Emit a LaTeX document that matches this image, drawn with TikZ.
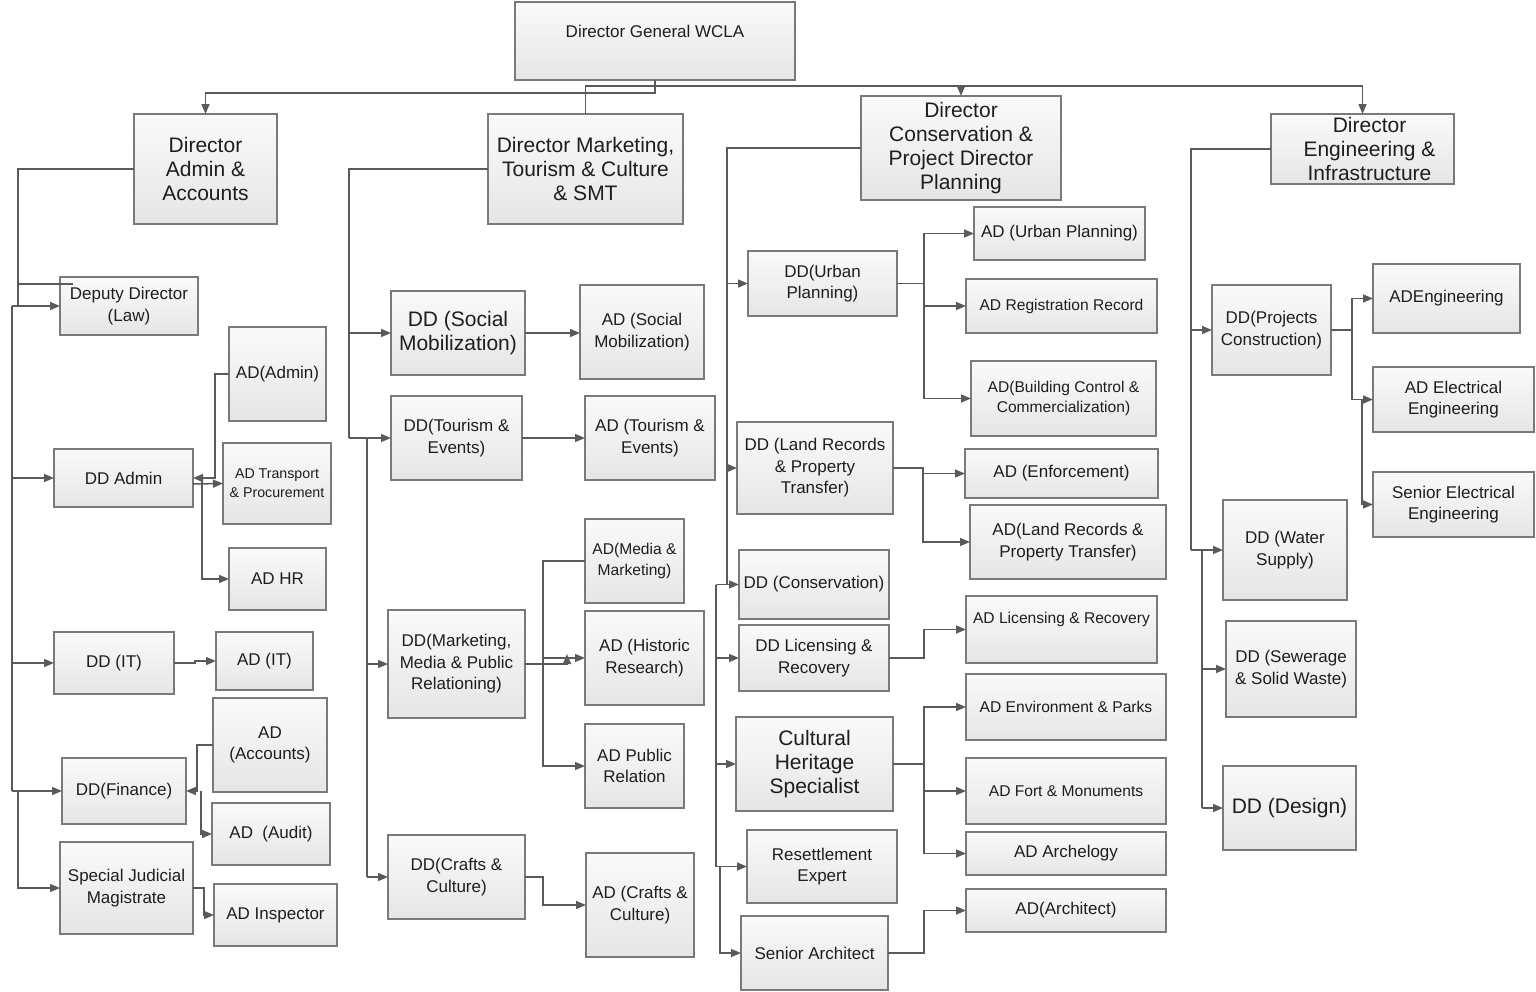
\documentclass[tikz,border=0pt]{standalone}
\usepackage{fontspec}
\setmainfont{Liberation Sans}
\usetikzlibrary{arrows.meta}
\definecolor{boxgray}{HTML}{7A7A7A}
\definecolor{linegray}{HTML}{5A5A5A}
\definecolor{txtc}{HTML}{1E1E1E}
\tikzset{
  box/.style={draw=boxgray,line width=1.3pt,top color=white!98!black,bottom color=black!10,inner sep=0pt,outer sep=0pt},
  txt/.style={align=center,inner sep=0pt,text=txtc},
  fbig/.style={font=\fontsize{21}{24}\selectfont},
  fmed/.style={font=\fontsize{17}{21.5}\selectfont},
  fsm/.style={font=\fontsize{15.6}{20.5}\selectfont},
  fxs/.style={font=\fontsize{14.2}{19}\selectfont},
  ln/.style={draw=linegray,line width=1.5pt},
  arr/.style={ln,-{Triangle[length=10pt,width=8pt]}},
}
% [yshift]{name}{x1}{y1}{x2}{y2}{style}{text}
\newcommand\bx[8][0]{%
  \node[box,minimum width={#5-#3},minimum height={#6-#4}] (#2) at ({(#3+#5)/2},{(#4+#6)/2}) {};
  \node[txt,#7] at ([yshift=#1 pt]#2.center) {#8};}
\begin{document}
\begin{tikzpicture}[x=1pt,y=-1pt]
\useasboundingbox (0,0) rectangle (1536,991);
% top level
\bx[10]{DG}{515}{2}{795}{80}{fmed}{Director General WCLA}
\bx{DA}{134}{114}{277}{224}{fbig}{Director\\Admin \&\\Accounts}
\bx{DM}{488}{114}{683}{224}{fbig}{Director Marketing,\\Tourism \& Culture\\\& SMT}
\bx{DC}{861}{96}{1061}{200}{fbig}{Director\\Conservation \&\\Project Director\\Planning}
\bx{DE}{1271}{114}{1454}{184}{fbig,xshift=7pt}{Director\\Engineering \&\\Infrastructure}
% admin column
\bx{DDLaw}{60}{277}{198}{335}{fmed}{Deputy Director\\(Law)}
\bx{DDA}{54}{449}{193}{507}{fmed}{DD Admin}
\bx{DDIT}{54}{632}{174}{694}{fmed}{DD (IT)}
\bx{DDF}{62}{758}{186}{824}{fmed}{DD(Finance)}
\bx{SJM}{60}{842}{193}{934}{fmed}{Special Judicial\\Magistrate}
\bx{ADA}{229}{327}{326}{421}{fmed}{AD(Admin)}
\bx{ADT}{223}{443}{331}{524}{fxs}{AD Transport\\\& Procurement}
\bx{ADHR}{229}{548}{326}{610}{fmed}{AD HR}
\bx{ADIT}{216}{632}{313}{690}{fmed}{AD (IT)}
\bx{ADAcc}{213}{698}{327}{792}{fmed}{AD\\(Accounts)}
\bx{ADAud}{212}{803}{330}{865}{fmed}{AD\ \ (Audit)}
\bx{ADIns}{214}{884}{337}{946}{fmed}{AD Inspector}
% marketing column
\bx{DDS}{391}{291}{525}{375}{fbig}{DD (Social\\Mobilization)}
\bx{ADS}{580}{285}{704}{379}{fmed}{AD (Social\\Mobilization)}
\bx{DDT}{391}{396}{522}{480}{fmed}{DD(Tourism \&\\Events)}
\bx{ADTo}{585}{396}{715}{480}{fmed}{AD (Tourism \&\\Events)}
\bx{ADMe}{585}{519}{684}{603}{fsm}{AD(Media \&\\Marketing)}
\bx{DDM}{388}{610}{525}{718}{fmed}{DD(Marketing,\\Media \& Public\\Relationing)}
\bx{ADH}{585}{611}{704}{705}{fmed}{AD (Historic\\Research)}
\bx{ADP}{585}{724}{684}{808}{fmed}{AD Public\\Relation}
\bx{DDC}{388}{835}{525}{919}{fmed}{DD(Crafts \&\\Culture)}
\bx{ADC}{586}{853}{694}{957}{fmed}{AD (Crafts \&\\Culture)}
% conservation column
\bx{DDU}{748}{251}{897}{316}{fmed}{DD(Urban\\Planning)}
\bx{ADU}{974}{207}{1145}{260}{fmed}{AD (Urban Planning)}
\bx{ADR}{966}{279}{1157}{333}{fsm}{AD Registration Record}
\bx{ADB}{971}{361}{1156}{436}{fsm}{AD(Building Control \&\\Commercialization)}
\bx{DDL}{737}{422}{893}{514}{fmed}{DD (Land Records\\\& Property\\Transfer)}
\bx{ADE}{965}{449}{1158}{498}{fmed}{AD (Enforcement)}
\bx{ADLR}{970}{505}{1166}{579}{fmed}{AD(Land Records \&\\Property Transfer)}
\bx{DDCo}{739}{550}{889}{619}{fmed}{DD (Conservation)}
\bx{DDLi}{739}{625}{889}{691}{fmed}{DD Licensing \&\\Recovery}
\bx[10]{ADLi}{966}{596}{1157}{663}{fsm}{AD Licensing \& Recovery}
\bx{CHS}{736}{717}{893}{811}{fbig}{Cultural\\Heritage\\Specialist}
\bx{ADEn}{966}{674}{1166}{740}{fsm}{AD Environment \& Parks}
\bx{ADF}{966}{758}{1166}{824}{fsm}{AD Fort \& Monuments}
\bx{ADAr}{966}{832}{1166}{875}{fmed}{AD Archelogy}
\bx{RE}{747}{830}{897}{903}{fmed}{Resettlement\\Expert}
\bx{ADAt}{966}{889}{1166}{932}{fmed}{AD(Architect)}
\bx{SA}{741}{916}{888}{990}{fmed}{Senior Architect}
% engineering column
\bx{DDP}{1212}{285}{1331}{375}{fmed}{DD(Projects\\Construction)}
\bx{ADEg}{1373}{264}{1520}{333}{fmed}{ADEngineering}
\bx{ADEl}{1373}{367}{1534}{432}{fmed}{AD Electrical\\Engineering}
\bx{SEE}{1373}{472}{1534}{537}{fmed}{Senior Electrical\\Engineering}
\bx{DDW}{1223}{500}{1347}{600}{fmed}{DD (Water\\Supply)}
\bx{DDSw}{1226}{621}{1356}{717}{fmed}{DD (Sewerage\\\& Solid Waste)}
\bx{DDD}{1223}{766}{1356}{850}{fbig}{DD (Design)}
% ---- connectors: top
\coordinate (h86) at (0,86);
\coordinate (h93) at (0,93);
\draw[arr] (DG.south) -- (DG.south |- h93) -| (DA.north);
\draw[ln] (DM.north) -- (DM.north |- h86) -- (DE.north |- h86);
\draw[arr] (DC.north |- h86) -- (DC.north);
\draw[arr] (DE.north |- h86) -- (DE.north);
% admin
\draw[ln] (DA.west) -| (18,306);
\draw[ln] (18,284) -- (73,284);
\draw[ln] (12,306) -- (12,791);
\draw[arr] (12,306) -- (DDLaw.west);
\draw[arr] (12,478) -- (DDA.west);
\draw[arr] (12,663) -- (DDIT.west);
\draw[arr] (12,791) -- (DDF.west);
\draw[arr] (18,791) |- (SJM.west);
\draw[arr] (ADA.west) -| (215,478) -- (DDA.east);
\draw[arr] ([yshift=-6pt]DDA.east) -- (ADT.west);
\draw[arr] (202,478) |- (ADHR.west);
\draw[arr] (DDIT.east) -- (195,663) -- (195,661) -- (ADIT.west);
\draw[arr] (ADAcc.west) -| (197,791) -- (DDF.east);
\draw[arr] (201,791) |- (ADAud.west);
\draw[arr] (SJM.east) -- (204,888) |- (ADIns.west);
% marketing
\draw[ln] (DM.west) -| (349,438);
\draw[arr] (349,333) -- (DDS.west);
\draw[arr] (349,438) -- (DDT.west);
\draw[ln] (367,438) -- (367,877);
\draw[arr] (367,664) -- (DDM.west);
\draw[arr] (367,877) -- (DDC.west);
\draw[arr] (DDS.east) -- (ADS.west |- DDS.east);
\draw[arr] (DDT.east) -- (ADTo.west);
\draw[arr] (ADMe.west) -| (543,766) -- (ADP.west);
\draw[arr] (543,658) -- (ADH.west);
\draw[arr] (DDM.east) -- (567,664) -- (567,654);
\draw[arr] (DDC.east) -| (543,905) -- (ADC.west);
% conservation
\draw[ln] (DC.west) -| (727,584.5);
\draw[arr] (727,283.5) -- (DDU.west);
\draw[arr] (727,468) -- (DDL.west);
\draw[ln] (716,584.5) -- (716,866.5);
\draw[arr] (716,584.5) -- (DDCo.west);
\draw[arr] (716,658) -- (DDLi.west);
\draw[arr] (716,764) -- (CHS.west);
\draw[arr] (716,866.5) -- (RE.west);
\draw[arr] (720,866.5) |- (SA.west);
\draw[arr] (DDU.east) -- (924,283.5) |- (ADU.west);
\draw[arr] (924,283.5) |- (ADR.west);
\draw[arr] (924,283.5) |- (ADB.west);
\draw[arr] (DDL.east) -- (923,468) |- (ADE.west);
\draw[arr] (923,468) |- (ADLR.west);
\draw[arr] (DDLi.east) -- (924,658) |- (ADLi.west);
\draw[arr] (CHS.east) -- (924,764) |- (ADEn.west);
\draw[arr] (924,764) |- (ADF.west);
\draw[arr] (924,764) |- (ADAr.west);
\draw[arr] (SA.east) -- (924,953) |- (ADAt.west);
% engineering
\draw[ln] (DE.west) -| (1191,550);
\draw[arr] (1191,330) -- (DDP.west);
\draw[arr] (1191,550) -- (DDW.west);
\draw[ln] (1202,550) -- (1202,808);
\draw[arr] (1202,669) -- (DDSw.west);
\draw[arr] (1202,808) -- (DDD.west);
\draw[arr] (DDP.east) -- (1352,330) |- (ADEg.west);
\draw[arr] (1352,330) |- (ADEl.west);
\draw[arr] (1362,399.5) |- (SEE.west);
\end{tikzpicture}
\end{document}
